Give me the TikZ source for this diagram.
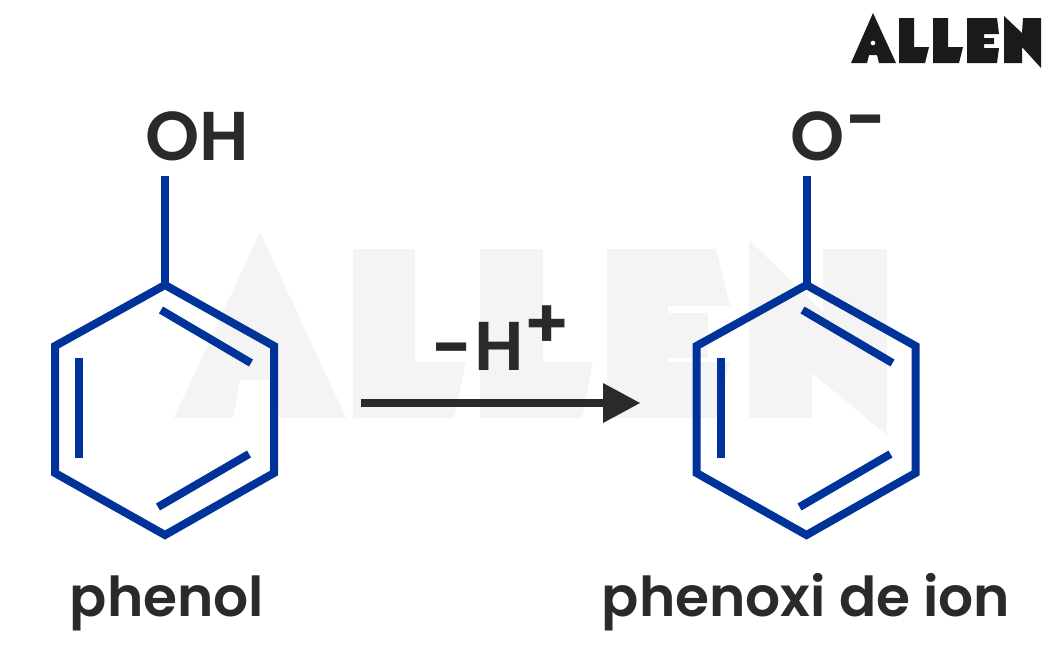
\documentclass[tikz,border=0pt]{standalone}
\usepackage{fontspec}
\setmainfont{Poppins}[UprightFont={* Medium},BoldFont={* SemiBold}]
\definecolor{bondblue}{HTML}{003399}
\definecolor{inkdark}{HTML}{2B2A29}
\definecolor{wmgray}{HTML}{F4F4F4}
\definecolor{logoblack}{HTML}{1A1A1A}
\tikzset{
  bond/.style={draw=bondblue,line width=8pt,line join=miter,miter limit=10},
  label/.style={text=inkdark,inner sep=0pt,outer sep=0pt,font=\fontsize{69}{69}\selectfont\bfseries,anchor=base},
  sign/.style={label,font=\fontsize{71}{71}\selectfont\bfseries},
  plussign/.style={label,font=\fontsize{70}{70}\selectfont\bfseries},
  caption/.style={label,font=\fontsize{55}{55}\selectfont\bfseries},
  wm/.style={fill=wmgray,draw=none},
  logo/.style={fill=logoblack,draw=none,even odd rule},
}
\newcommand{\benzene}[2]{%
  \begin{scope}[shift={(#1,0)}]
    \coordinate (#2top) at (165,285);
    \coordinate (#2ur) at (274,346);
    \coordinate (#2lr) at (274,473);
    \coordinate (#2bot) at (165,535);
    \coordinate (#2ll) at (55,473);
    \coordinate (#2ul) at (55,346);
    \coordinate (#2sub) at (165,176);
    \draw[bond] (#2top) -- (#2ur) -- (#2lr) -- (#2bot) -- (#2ll) -- (#2ul) -- cycle;
    \draw[bond] (#2sub) -- (#2top);
    \draw[bond] (79,358) -- (79,458);
    \draw[bond] (161,310) -- (251,363);
    \draw[bond] (158,507) -- (249,454);
  \end{scope}}
\begin{document}
\begin{tikzpicture}[x=1pt,y=-1pt]
\useasboundingbox (0,0) rectangle (1060,667);
% watermark
\fill[wm] (260,232) -- (346,418) -- (280,418) -- (272,380) -- (240,380) -- (233,418) -- (174,418) -- cycle;
\fill[wm] (353,249) -- (415,249) -- (415,362) -- (466,362) -- (454,418) -- (353,418) -- cycle;
\fill[wm] (480,249) -- (543,249) -- (543,362) -- (593,362) -- (582,418) -- (480,418) -- cycle;
\fill[wm] (607,249) -- (716,249) -- (730,306) -- (668,306) -- (668,313) -- (708,313) -- (708,358) -- (668,358) -- (668,362) -- (730,362) -- (716,418) -- (607,418) -- cycle;
\fill[wm] (749,240) -- (823,312) -- (823,249) -- (887,249) -- (887,435) -- (812,373) -- (812,418) -- (749,418) -- cycle;
% logo
\fill[logo] (873,13) -- (896,63) -- (879,63) -- (877,55) -- (869,55) -- (867,63) -- (851,63) -- cycle (873,43) circle (2.5);
\fill[logo] (899,18) -- (914,18) -- (914,47) -- (929,47) -- (925,63) -- (899,63) -- cycle;
\fill[logo] (933,18) -- (948,18) -- (948,47) -- (963,47) -- (959,63) -- (933,63) -- cycle;
\fill[logo] (967,18) -- (997,18) -- (999,34) -- (984,34) -- (984,38) -- (994,38) -- (994,44) -- (984,44) -- (984,48) -- (999,48) -- (997,63) -- (967,63) -- cycle;
\fill[logo] (1004,16) -- (1022,33) -- (1023,18) -- (1041,18) -- (1041,68) -- (1022,47) -- (1022,63) -- (1004,63) -- cycle;
% molecules
\benzene{0}{a}
\benzene{641.5}{b}
% arrow
\coordinate (arrowstart) at (361,403);
\coordinate (arrowneck) at (604,403);
\coordinate (arrowtip) at (640,403);
\draw[draw=inkdark,line width=7.5pt] (arrowstart) -- (arrowneck);
\fill[inkdark] (arrowtip) -- (603,383) -- (603,423) -- cycle;
% labels
\node[label] (oh) at (197,160) {OH};
\node[label] (oxy) at (818,160) {O};
\node[sign] (oxyminus) at (866,144) {-};
\node[sign] (hminus) at (452,372) {-};
\node[label] (hplus) at (499,370) {H};
\node[plussign] (hpos) at (547,348) {+};
\node[caption] (phenol) at (167,616) {phenol};
\node[caption] (phenoxide) at (806,616) {phenoxi de ion};
\end{tikzpicture}
\end{document}
